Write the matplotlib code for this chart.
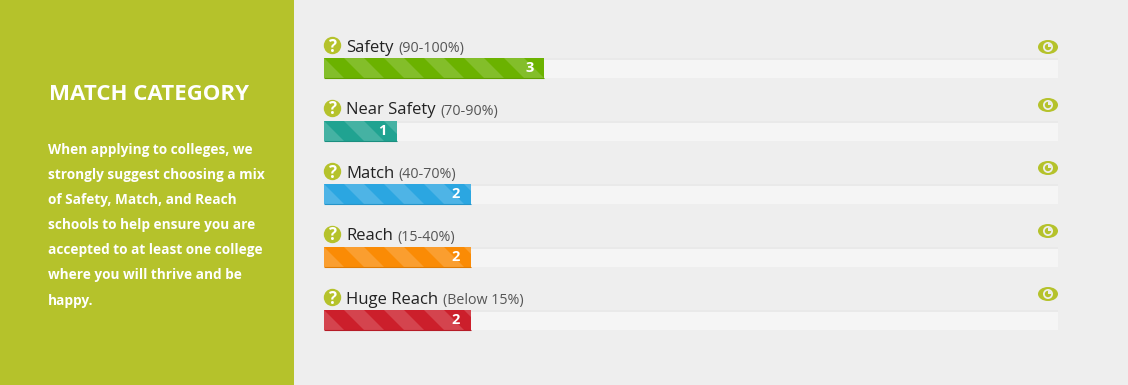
import numpy as np
import matplotlib
matplotlib.use("Agg")
import matplotlib.pyplot as plt
from matplotlib.patches import Polygon, Rectangle, Circle, Ellipse, Wedge

categories = ["Safety", "Near Safety", "Match", "Reach", "Huge Reach"]
ranges = ["(90-100%)", "(70-90%)", "(40-70%)", "(15-40%)", "(Below 15%)"]
values = [3, 1, 2, 2, 2]
colors = ["#6BB200", "#20A391", "#2BA6E1", "#FA8B05", "#CC1F2B"]
edge_colors = ["#5FA000", "#1B8F80", "#2594C9", "#E07C04", "#B51B26"]
title = "MATCH CATEGORY"
body = ["When applying to colleges, we", "strongly suggest choosing a mix",
        "of Safety, Match, and Reach", "schools to help ensure you are",
        "accepted to at least one college", "where you will thrive and be", "happy."]

W, H = 1128, 385
BAR_L, BAR_R = 324, 1058
MAXV = 10
OLIVE = "#B5C22B"
FONT = "Open Sans"

fig = plt.figure(figsize=(W / 100, H / 100), dpi=100, facecolor="#EEEEEE")
# overlay in pixel coordinates for panels, text and icons
px = fig.add_axes([0, 0, 1, 1], zorder=3)
px.set_xlim(0, W); px.set_ylim(H, 0); px.axis("off")
back = fig.add_axes([0, 0, 1, 1], zorder=0)
back.set_xlim(0, W); back.set_ylim(H, 0); back.axis("off")
back.add_patch(Rectangle((0, 0), 294, H, fc=OLIVE, ec="none"))

# bars in data coordinates: five rows, 63 px apart, 20 px tall
top0, step, bh = 58, 63, 20
y_top = top0 - (step - bh) / 2
ax = fig.add_axes([BAR_L / W, 1 - (y_top + 5 * step) / H, (BAR_R - BAR_L) / W, 5 * step / H], zorder=1)
ax.set_xlim(0, MAXV); ax.set_ylim(4.5, -0.5); ax.axis("off")
hbar = bh / step
unit = (BAR_R - BAR_L) / MAXV
for i, (v, c, e) in enumerate(zip(values, colors, edge_colors)):
    ax.barh(i, MAXV, height=hbar, color="#F5F5F5", zorder=1)
    ax.plot([0, MAXV], [i - hbar / 2 + 0.5 / step] * 2, color="#E6E6E6", lw=1.1, zorder=2, solid_capstyle="butt")
    bar = ax.barh(i, v, height=hbar, color=c, zorder=3)[0]
    # diagonal sheen stripes, clipped to the bar
    period = 40 / unit
    run = bh / unit
    top, bot = i - hbar / 2, i + hbar / 2
    for k in range(-2, int(v / period) + 3):
        x0 = (k + 0.5) * period
        st = Polygon([(x0, top), (x0 + period / 2, top), (x0 + period / 2 + run, bot), (x0 + run, bot)],
                     fc="white", alpha=0.17, ec="none", zorder=4)
        ax.add_patch(st)
        st.set_clip_path(bar)
    ax.plot([0, v], [bot - 0.5 / step] * 2, color=e, lw=0.8, zorder=5, solid_capstyle="butt")
    ax.text(v - 15 / unit, i + 0.2 / step, str(v), color="white", fontsize=10.5, fontweight="bold",
            family=FONT, ha="center", va="center", zorder=6)

# left panel text
px.text(49, 94, title, color="white", fontsize=16.0, fontweight="bold", family=FONT, va="center")
for j, line in enumerate(body):
    px.text(48, 150 + j * 25.1, line, color="#FFFFFF", fontsize=9.8, fontweight="bold", family=FONT, va="center")

# row headings and icons
label_y = [46, 109, 172, 235, 298]
eye_y = [47, 105, 168, 231, 294]
for name, rng, ly, ey in zip(categories, ranges, label_y, eye_y):
    px.add_patch(Circle((332.5, ly - 0.5), 8.7, fc=OLIVE, ec="none"))
    px.text(332.5, ly + 0.5, "?", color="white", fontsize=12, fontweight="bold", family=FONT, ha="center", va="center")
    t = px.text(346.5, ly + 1.5, name, color="#222222", fontsize=12, family=FONT, va="center")
    fig.canvas.draw()
    bb = t.get_window_extent()
    px.text(bb.x1 + 4, ly + 2.2, rng, color="#555555", fontsize=10.3, family=FONT, va="center")
    px.add_patch(Ellipse((1048, ey), 20, 14, fc=OLIVE, ec="none"))
    px.add_patch(Circle((1048, ey), 5, fc="#EEEEEE", ec="none"))
    px.add_patch(Circle((1048, ey), 3.2, fc=OLIVE, ec="none"))
    px.add_patch(Wedge((1048, ey), 3.4, 270, 360, fc="#EEEEEE", ec="none"))

fig.savefig("out.png", dpi=100, facecolor=fig.get_facecolor())
